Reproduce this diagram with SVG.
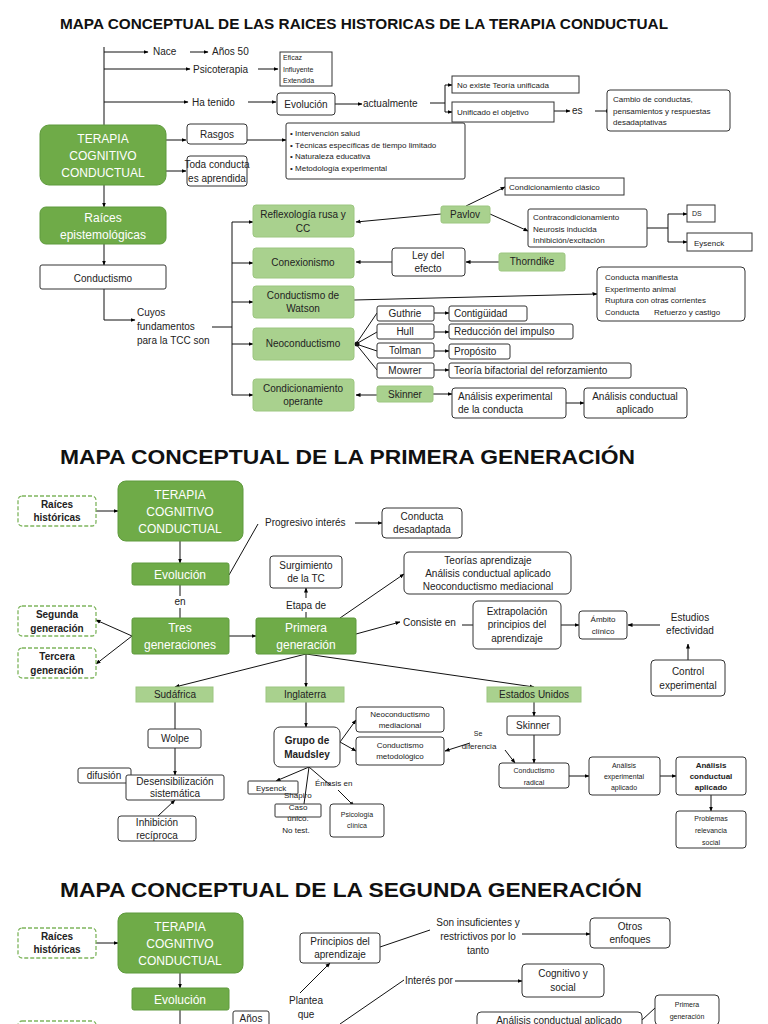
<svg xmlns="http://www.w3.org/2000/svg" width="768" height="1024" viewBox="0 0 768 1024">
<defs>
<marker id="a" viewBox="0 0 10 10" refX="9" refY="5" markerWidth="5" markerHeight="5" orient="auto"><path d="M0,1 L10,5 L0,9 z" fill="#000"/></marker>
<style>
text{font-family:"Liberation Sans","DejaVu Sans",sans-serif;fill:#222;font-size:10px}
.t{font-size:15px;font-weight:bold;fill:#111}
.T{font-size:20px;font-weight:bold;fill:#111}
.c{text-anchor:middle}
.w{fill:#fff;stroke:#333;stroke-width:1}
.g{fill:#6fab48;stroke:#5e9a3c;stroke-width:1}
.l{fill:#a9d18e;stroke:#9cc680;stroke-width:1}
.d{fill:#fff;stroke:#7fb55e;stroke-width:1.3;stroke-dasharray:4 2}
.wt{fill:#fff;font-size:12px}
.s{font-size:8px}
.xs{font-size:7px}
.b{font-weight:bold}
#conn path,#conn line{stroke:#111;stroke-width:1;fill:none}
.m{marker-end:url(#a)}
</style>
</defs>
<rect width="768" height="1024" fill="#fff"/>

<text class="t" x="60" y="29" textLength="608" lengthAdjust="spacingAndGlyphs">MAPA CONCEPTUAL DE LAS RAICES HISTORICAS DE LA TERAPIA CONDUCTUAL</text>
<text class="T" x="60" y="464" textLength="575" lengthAdjust="spacingAndGlyphs">MAPA CONCEPTUAL DE LA PRIMERA GENERACIÓN</text>
<text class="T" x="60" y="897" textLength="582" lengthAdjust="spacingAndGlyphs">MAPA CONCEPTUAL DE LA SEGUNDA GENERACIÓN</text>

<g id="conn">
<path d="M104,125 V47 M104,52 H148" class="m"/><path d="M104,69 H190" class="m"/><path d="M104,102 H188" class="m"/>
<path d="M190,52 H208" class="m"/><path d="M258,69 H278" class="m"/><path d="M248,102 H276" class="m"/>
<path d="M335,104 H362" class="m"/><path d="M430,103 H445 V85 H452" class="m"/><path d="M445,103 V112 H452" class="m"/>
<path d="M554,111 H570" class="m"/><path d="M595,111 H610" class="m"/>
<path d="M166,140 H186" class="m"/><path d="M247,140 H286" class="m"/><path d="M166,171 H186" class="m"/>
<path d="M104,185 V207" class="m"/><path d="M104,244 V265" class="m"/><path d="M104,289 V320 H135" class="m"/>
<path d="M212,327 H232 M232,222 V395"/>
<path d="M232,222 H253" class="m"/><path d="M232,263 H253" class="m"/><path d="M232,302 H253" class="m"/><path d="M232,344 H253" class="m"/><path d="M232,395 H253" class="m"/>
<path d="M441,214 L356,222" class="m"/><path d="M466,206 L505,187" class="m"/><path d="M490,214 L528,231" class="m"/>
<path d="M647,228 H668 V214 H687" class="m"/><path d="M668,228 V242 H687" class="m"/>
<path d="M392,262 H356" class="m"/><path d="M499,262 H466" class="m"/>
<path d="M354,300 L597,294" class="m"/><path d="M634,313 H651" class="m"/>
<path d="M356,344 L377,313 M356,344 L377,332 M356,344 L377,351 M356,344 L377,370"/>
<circle cx="357" cy="344" r="2.5" fill="#111"/>
<path d="M434,313 H449" class="m"/><path d="M434,332 H449" class="m"/><path d="M434,351 H449" class="m"/><path d="M434,370 H449" class="m"/>
<path d="M377,395 H356" class="m"/><path d="M433,394 H452" class="m"/><path d="M566,403 H584" class="m"/>

<path d="M96,511 H118" class="m"/><path d="M180,541 V563" class="m"/>
<path d="M229,575 L258,524"/><path d="M355,523 H382" class="m"/>
<path d="M180,585 V596 M180,608 V618"/>
<path d="M132,636 L96,620" class="m"/><path d="M132,636 L96,664" class="m"/><path d="M229,636 H256" class="m"/>
<path d="M306,618 V612 M306,598 V588" class="m"/>
<path d="M340,618 L404,574" class="m"/><path d="M356,634 L400,622" class="m"/><path d="M462,625 H473"/>
<path d="M561,625 H579" class="m"/><path d="M660,625 H628" class="m"/><path d="M688,660 V644" class="m"/>
<path d="M306,654 L175,687" class="m"/><path d="M306,654 V687" class="m"/><path d="M306,654 L534,687" class="m"/>
<path d="M175,702 V729 M175,748 V775" class="m"/><path d="M158,816 L175,800" class="m"/>
<path d="M306,702 V727" class="m"/><path d="M340,742 L356,720" class="m"/><path d="M340,742 L356,751" class="m"/>
<path d="M309,767 L276,781" class="m"/><path d="M309,767 L304,804 M309,767 L330,785 M338,790 L354,806" class="m"/>
<path d="M534,702 V716" class="m"/><path d="M534,735 V763" class="m"/>
<path d="M470,743 L445,751" class="m"/><path d="M505,750 L515,763" class="m"/>
<path d="M569,776 H589" class="m"/><path d="M660,776 H676" class="m"/><path d="M711,795 V811" class="m"/>

<path d="M96,943 H118" class="m"/><path d="M180,973 V988" class="m"/><path d="M180,1010 V1024"/>
<path d="M380,947 L430,930"/><path d="M522,934 H590" class="m"/>
<path d="M300,993 L330,963" class="m"/><path d="M340,1024 L404,980"/><path d="M455,981 H522" class="m"/>
<path d="M642,1020 L655,1008"/>
</g>

<g id="s1">
<g id="tcc1"><rect class="g" x="40" y="125" width="126" height="60" rx="9"/><text class="wt c" x="103" y="143">TERAPIA</text><text class="wt c" x="103" y="160">COGNITIVO</text><text class="wt c" x="103" y="177">CONDUCTUAL</text></g>
<text x="153" y="55">Nace</text><text x="212" y="55">Años 50</text>
<text x="193" y="73">Psicoterapia</text>
<g id="eficaz"><rect class="w" x="280" y="52" width="52" height="34"/><text class="xs" x="283" y="60">Eficaz</text><text class="xs" x="283" y="72">Influyente</text><text class="xs" x="283" y="83">Extendida</text></g>
<text x="192" y="106">Ha tenido</text>
<g id="evo1"><rect class="w" x="277" y="93" width="58" height="22" rx="3"/><text class="c" x="306" y="108">Evolución</text></g>
<text x="363" y="107">actualmente</text>
<g id="noex"><rect class="w" x="452" y="76" width="127" height="17"/><text class="s" x="457" y="88">No existe Teoría unificada</text></g>
<g id="unif"><rect class="w" x="452" y="102" width="102" height="20"/><text class="s" x="457" y="115">Unificado el objetivo</text></g>
<text x="572" y="114">es</text>
<g id="cambio"><rect class="w" x="607" y="90" width="123" height="41" rx="3"/><text class="s" x="613" y="102">Cambio de conductas,</text><text class="s" x="613" y="114">pensamientos y respuestas</text><text class="s" x="613" y="125">desadaptativas</text></g>
<g id="rasgos"><rect class="w" x="187" y="124" width="60" height="20" rx="3"/><text class="c" x="217" y="138">Rasgos</text></g>
<g id="lista1"><rect class="w" x="286" y="123" width="179" height="56" rx="2"/>
<text class="s" x="290" y="136">•  Intervención salud</text><text class="s" x="290" y="148">•  Técnicas específicas de tiempo limitado</text><text class="s" x="290" y="159">•  Naturaleza educativa</text><text class="s" x="290" y="171">•  Metodología experimental</text></g>
<g id="toda"><rect class="w" x="187" y="156" width="60" height="30" rx="3"/><text class="c" x="217" y="168">Toda conducta</text><text class="c" x="217" y="182">es aprendida</text></g>
<g id="raices1"><rect class="g" x="40" y="207" width="126" height="37" rx="6"/><text class="wt c" x="103" y="222">Raíces</text><text class="wt c" x="103" y="239">epistemológicas</text></g>
<g id="cond"><rect class="w" x="40" y="265" width="126" height="24" rx="2"/><text class="c" x="103" y="282" font-size="13">Conductismo</text></g>
<text x="137" y="316">Cuyos</text><text x="137" y="330">fundamentos</text><text x="137" y="344">para la TCC son</text>
<g id="refl"><rect class="l" x="253" y="205" width="101" height="32" rx="3"/><text class="c" x="303" y="218" font-size="9">Reflexología rusa y</text><text class="c" x="303" y="232" font-size="9">CC</text></g>
<g id="conex"><rect class="l" x="253" y="248" width="101" height="30" rx="3"/><text class="c" x="303" y="266" font-size="9">Conexionismo</text></g>
<g id="watson"><rect class="l" x="253" y="286" width="101" height="32" rx="3"/><text class="c" x="303" y="299" font-size="9">Conductismo de</text><text class="c" x="303" y="312" font-size="9">Watson</text></g>
<g id="neo"><rect class="l" x="253" y="328" width="101" height="32" rx="3"/><text class="c" x="303" y="347" font-size="9">Neoconductismo</text></g>
<g id="oper"><rect class="l" x="253" y="379" width="101" height="32" rx="3"/><text class="c" x="303" y="392" font-size="9">Condicionamiento</text><text class="c" x="303" y="405" font-size="9">operante</text></g>
<g id="pavlov"><rect class="l" x="441" y="206" width="49" height="17" rx="2"/><text class="c" x="465" y="218" font-size="9">Pavlov</text></g>
<g id="clasico"><rect class="w" x="505" y="178" width="119" height="17"/><text class="s" x="509" y="190">Condicionamiento clásico</text></g>
<g id="contra"><rect class="w" x="528" y="209" width="119" height="38" rx="2"/><text class="s" x="533" y="220">Contracondicionamiento</text><text class="s" x="533" y="232">Neurosis inducida</text><text class="s" x="533" y="243">Inhibición/excitación</text></g>
<g id="ds"><rect class="w" x="687" y="205" width="28" height="17"/><text class="xs" x="692" y="216">DS</text></g>
<g id="eys1"><rect class="w" x="687" y="233" width="65" height="18"/><text class="s" x="694" y="246">Eysenck</text></g>
<g id="ley"><rect class="w" x="392" y="248" width="73" height="28" rx="3"/><text class="c" x="428" y="259" font-size="9">Ley del</text><text class="c" x="428" y="272" font-size="9">efecto</text></g>
<g id="thorn"><rect class="l" x="499" y="253" width="66" height="18" rx="2"/><text class="c" x="532" y="265" font-size="9">Thorndike</text></g>
<g id="watlist"><rect class="w" x="597" y="267" width="148" height="54" rx="4"/><text class="s" x="605" y="280">Conducta manifiesta</text><text class="s" x="605" y="292">Experimento animal</text><text class="s" x="605" y="303">Ruptura con otras corrientes</text><text class="s" x="605" y="315">Conducta</text><text class="s" x="654" y="315">Refuerzo y castigo</text></g>
<g id="guth"><rect class="w" x="377" y="306" width="57" height="15" rx="2"/><text class="c" x="405" y="317" font-size="9">Guthrie</text></g>
<g id="hull"><rect class="w" x="377" y="324" width="57" height="15" rx="2"/><text class="c" x="405" y="335" font-size="9">Hull</text></g>
<g id="tol"><rect class="w" x="377" y="343" width="57" height="15" rx="2"/><text class="c" x="405" y="354" font-size="9">Tolman</text></g>
<g id="mow"><rect class="w" x="377" y="363" width="57" height="15" rx="2"/><text class="c" x="405" y="374" font-size="9">Mowrer</text></g>
<g id="cont"><rect class="w" x="449" y="306" width="78" height="15" rx="2"/><text x="454" y="317" font-size="9">Contigüidad</text></g>
<g id="red"><rect class="w" x="449" y="324" width="124" height="15" rx="2"/><text x="454" y="335" font-size="9">Reducción del impulso</text></g>
<g id="prop"><rect class="w" x="449" y="344" width="61" height="15" rx="2"/><text x="454" y="355" font-size="9">Propósito</text></g>
<g id="teo"><rect class="w" x="449" y="363" width="182" height="15" rx="2"/><text x="454" y="374" font-size="9">Teoría bifactorial del reforzamiento</text></g>
<g id="skin1"><rect class="l" x="377" y="386" width="56" height="16" rx="2"/><text class="c" x="405" y="398" font-size="9">Skinner</text></g>
<g id="aexp"><rect class="w" x="452" y="388" width="114" height="30" rx="3"/><text x="458" y="400" font-size="9">Análisis experimental</text><text x="458" y="413" font-size="9">de la conducta</text></g>
<g id="acond"><rect class="w" x="584" y="388" width="103" height="30" rx="3"/><text class="c" x="635" y="400" font-size="9">Análisis conductual</text><text class="c" x="635" y="413" font-size="9">aplicado</text></g>
</g>

<g id="s2">
<g id="rh2"><rect class="d" x="18" y="496" width="78" height="30" rx="4"/><text class="c b" x="57" y="508">Raíces</text><text class="c b" x="57" y="521">históricas</text></g>
<g id="tcc2"><rect class="g" x="118" y="481" width="125" height="60" rx="8"/><text class="wt c" x="180" y="499">TERAPIA</text><text class="wt c" x="180" y="516">COGNITIVO</text><text class="wt c" x="180" y="533">CONDUCTUAL</text></g>
<g id="evo2"><rect class="g" x="132" y="563" width="97" height="22" rx="2"/><text class="wt c" x="180" y="579">Evolución</text></g>
<text x="265" y="526" font-size="9">Progresivo interés</text>
<g id="desad"><rect class="w" x="382" y="508" width="80" height="30" rx="4"/><text class="c" x="422" y="520" font-size="9">Conducta</text><text class="c" x="422" y="533" font-size="9">desadaptada</text></g>
<text class="c" x="180" y="605" font-size="9">en</text>
<g id="tres"><rect class="g" x="132" y="618" width="97" height="36" rx="2"/><text class="wt c" x="180" y="632">Tres</text><text class="wt c" x="180" y="649">generaciones</text></g>
<g id="seg"><rect class="d" x="18" y="606" width="78" height="30" rx="4"/><text class="c b" x="57" y="618">Segunda</text><text class="c b" x="57" y="632">generación</text></g>
<g id="ter"><rect class="d" x="18" y="648" width="78" height="30" rx="4"/><text class="c b" x="57" y="660">Tercera</text><text class="c b" x="57" y="674">generación</text></g>
<g id="prim"><rect class="g" x="256" y="618" width="100" height="36" rx="2"/><text class="wt c" x="306" y="632">Primera</text><text class="wt c" x="306" y="649">generación</text></g>
<text class="c" x="306" y="609" font-size="9">Etapa de</text>
<g id="surg"><rect class="w" x="270" y="556" width="72" height="32" rx="3"/><text class="c" x="306" y="569" font-size="9">Surgimiento</text><text class="c" x="306" y="582" font-size="9">de la TC</text></g>
<g id="teor"><rect class="w" x="404" y="552" width="167" height="42" rx="5"/><text class="c" x="488" y="564" font-size="9">Teorías aprendizaje</text><text class="c" x="488" y="577" font-size="9">Análisis  conductual aplicado</text><text class="c" x="488" y="590" font-size="9">Neoconductismo mediacional</text></g>
<text x="403" y="626" font-size="9">Consiste en</text>
<g id="extr"><rect class="w" x="473" y="601" width="88" height="48" rx="5"/><text class="c" x="517" y="615" font-size="9">Extrapolación</text><text class="c" x="517" y="628" font-size="9">principios del</text><text class="c" x="517" y="642" font-size="9">aprendizaje</text></g>
<g id="ambito"><rect class="w" x="579" y="611" width="48" height="28" rx="3"/><text class="c s" x="603" y="622">Ámbito</text><text class="c s" x="603" y="634">clínico</text></g>
<text class="c" x="690" y="621" font-size="9">Estudios</text><text class="c" x="690" y="634" font-size="9">efectividad</text>
<g id="control"><rect class="w" x="651" y="660" width="74" height="36" rx="4"/><text class="c" x="688" y="675" font-size="9">Control</text><text class="c" x="688" y="689" font-size="9">experimental</text></g>
<g id="sud"><rect class="l" x="136" y="687" width="77" height="15"/><text class="c" x="175" y="698" font-size="9">Sudáfrica</text></g>
<g id="ingl"><rect class="l" x="266" y="687" width="78" height="15"/><text class="c" x="305" y="698" font-size="9">Inglaterra</text></g>
<g id="eeuu"><rect class="l" x="487" y="687" width="94" height="15"/><text class="c" x="534" y="698" font-size="9">Estados Unidos</text></g>
<g id="wolpe"><rect class="w" x="148" y="729" width="53" height="19" rx="2"/><text class="c" x="175" y="742" font-size="9">Wolpe</text></g>
<g id="dif"><rect class="w" x="78" y="768" width="53" height="15" rx="2"/><text class="c" x="104" y="779" font-size="9">difusión</text></g>
<g id="desens"><rect class="w" x="126" y="775" width="98" height="25" rx="2"/><text class="c" x="175" y="785" font-size="9">Desensibilización</text><text class="c" x="175" y="797" font-size="9">sistemática</text></g>
<g id="inhib"><rect class="w" x="118" y="816" width="78" height="25" rx="3"/><text class="c" x="157" y="826" font-size="9">Inhibición</text><text class="c" x="157" y="839" font-size="9">recíproca</text></g>
<g id="maud"><rect class="w" x="274" y="727" width="66" height="40" rx="6"/><text class="c b" x="307" y="744">Grupo de</text><text class="c b" x="307" y="758">Maudsley</text></g>
<g id="neomed"><rect class="w" x="356" y="707" width="88" height="25" rx="3"/><text class="c s" x="400" y="717">Neoconductismo</text><text class="c s" x="400" y="728">mediacional</text></g>
<g id="metod"><rect class="w" x="356" y="737" width="88" height="28" rx="3"/><text class="c s" x="400" y="748">Conductismo</text><text class="c s" x="400" y="759">metodológico</text></g>
<g id="eys2"><rect class="w" x="248" y="781" width="50" height="13" rx="1"/><text class="s" x="256" y="791">Eysenck</text></g>
<text class="s" x="284" y="798">Shapiro</text>
<g id="caso"><rect class="w" x="275" y="804" width="46" height="13" rx="1"/><text class="c s" x="298" y="810">Caso</text><text class="c s" x="298" y="821">único.</text></g>
<text class="c s" x="296" y="833">No test.</text>
<text class="s" x="315" y="786">Énfasis en</text>
<g id="psic"><rect class="w" x="330" y="804" width="54" height="33" rx="3"/><text class="c xs" x="357" y="817">Psicología</text><text class="c xs" x="357" y="828">clínica</text></g>
<g id="skin2"><rect class="w" x="507" y="716" width="53" height="19" rx="2"/><text class="c" x="533" y="729" font-size="9">Skinner</text></g>
<text class="c xs" x="478" y="736">Se</text><text class="c s" x="479" y="749">diferencia</text>
<g id="radical"><rect class="w" x="499" y="763" width="70" height="25" rx="3"/><text class="c xs" x="534" y="773">Conductismo</text><text class="c xs" x="534" y="785">radical</text></g>
<g id="aea"><rect class="w" x="589" y="757" width="71" height="38" rx="3"/><text class="c xs" x="624" y="768">Análisis</text><text class="c xs" x="624" y="779">experimental</text><text class="c xs" x="624" y="790">aplicado</text></g>
<g id="aca"><rect class="w" x="676" y="757" width="70" height="38" rx="3"/><text class="c b s" x="711" y="768">Análisis</text><text class="c b s" x="711" y="779">conductual</text><text class="c b s" x="711" y="790">aplicado</text></g>
<g id="probl"><rect class="w" x="676" y="811" width="70" height="37" rx="3"/><text class="c xs" x="711" y="821">Problemas</text><text class="c xs" x="711" y="833">relevancia</text><text class="c xs" x="711" y="845">social</text></g>
</g>

<g id="s3">
<g id="rh3"><rect class="d" x="18" y="928" width="78" height="30" rx="4"/><text class="c b" x="57" y="940">Raíces</text><text class="c b" x="57" y="953">históricas</text></g>
<g id="tcc3"><rect class="g" x="118" y="913" width="125" height="60" rx="8"/><text class="wt c" x="180" y="931">TERAPIA</text><text class="wt c" x="180" y="948">COGNITIVO</text><text class="wt c" x="180" y="965">CONDUCTUAL</text></g>
<g id="evo3"><rect class="g" x="132" y="988" width="97" height="22" rx="2"/><text class="wt c" x="180" y="1004">Evolución</text></g>
<g id="anos"><rect class="w" x="233" y="1011" width="36" height="22" rx="2"/><text class="c" x="251" y="1022" font-size="9">Años</text></g>
<rect class="d" x="18" y="1021" width="78" height="20" rx="4"/>
<g id="princ"><rect class="w" x="300" y="933" width="80" height="30" rx="3"/><text class="c" x="340" y="945" font-size="9">Principios del</text><text class="c" x="340" y="958" font-size="9">aprendizaje</text></g>
<text class="c" x="478" y="926" font-size="9">Son insuficientes y</text><text class="c" x="478" y="940" font-size="9">restrictivos  por lo</text><text class="c" x="478" y="954" font-size="9">tanto</text>
<g id="otros"><rect class="w" x="590" y="918" width="80" height="30" rx="4"/><text class="c" x="630" y="930" font-size="9">Otros</text><text class="c" x="630" y="943" font-size="9">enfoques</text></g>
<text class="c" x="306" y="1004" font-size="9">Plantea</text><text class="c" x="306" y="1018" font-size="9">que</text>
<text x="405" y="984" font-size="9">Interés por</text>
<g id="cogn"><rect class="w" x="522" y="964" width="82" height="33" rx="4"/><text class="c" x="563" y="977" font-size="9">Cognitivo y</text><text class="c" x="563" y="991" font-size="9">social</text></g>
<g id="aca3"><rect class="w" x="477" y="1012" width="165" height="22" rx="4"/><text class="c" x="559" y="1024" font-size="9">Análisis  conductual aplicado</text></g>
<g id="primg"><rect class="w" x="655" y="995" width="64" height="30" rx="4"/><text class="c xs" x="687" y="1007">Primera</text><text class="c xs" x="687" y="1019">generación</text></g>
</g>
</svg>
